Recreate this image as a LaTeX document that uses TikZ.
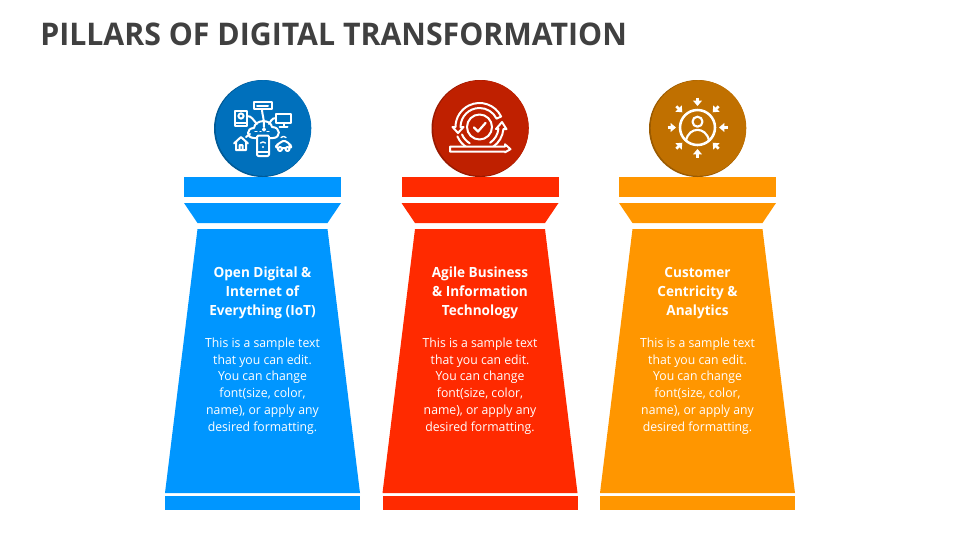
\documentclass[tikz,border=0pt]{standalone}
\usepackage{fontspec}
\setmainfont[FakeStretch=0.97]{Open Sans}
\usetikzlibrary{arrows.meta, positioning}
\definecolor{pillarBlue}{HTML}{0096FF}
\definecolor{pillarRed}{HTML}{FF2A00}
\definecolor{pillarOrange}{HTML}{FF9600}
\definecolor{discBlue}{HTML}{0070BC}
\definecolor{discRed}{HTML}{BF2000}
\definecolor{discOrange}{HTML}{C07000}
\definecolor{titleGrey}{HTML}{404040}
\tikzset{
    titletext/.style={font=\fontsize{23.4}{30}\selectfont\bfseries, text=titleGrey, anchor=west, inner sep=0pt},
    headtext/.style={font=\fontsize{10.5}{14.25}\selectfont\bfseries, text=white, align=center, inner sep=0pt},
    bodytext/.style={font=\fontsize{9.45}{12.6}\selectfont, text=white, align=center, inner sep=0pt},
    glyph/.style={draw=white, line width=1.5pt, line join=round, line cap=round},
    inarrow/.style={draw=white, line width=1.9pt, -{Triangle[length=4pt, width=6.5pt]}}
}

\begin{document}
\begin{tikzpicture}[x=0.75pt, y=-0.75pt]
    \useasboundingbox (0,0) rectangle (960,540);

    \node [titletext] (title) at (40,34.5) {PILLARS OF DIGITAL TRANSFORMATION};

    % Pillars
    \foreach \cx/\tone/\dark/\nm in {262.5/pillarBlue/discBlue/blue, 480/pillarRed/discRed/red, 697.5/pillarOrange/discOrange/orange} {
        \fill [\tone] (\cx-78.5,177) rectangle (\cx+78.5,197);
        \fill [\tone] (\cx-78.5,203) -- (\cx+78.5,203) -- (\cx+65,223) -- (\cx-65,223) -- cycle;
        \fill [\tone] (\cx-65,229) -- (\cx+65,229) -- (\cx+97.5,493) -- (\cx-97.5,493) -- cycle;
        \fill [\tone] (\cx-97.5,496) rectangle (\cx+97.5,510);
        \fill [\dark!80!black] (\cx,128.5) circle (48.5);
        \fill [\dark] (\cx+1,128) circle (47.8);
        \node [bodytext] (body\nm) at (\cx,386) {This is a sample text\\that you can edit.\\You can change\\font(size, color,\\name), or apply any\\desired formatting.};
    }

    \node [headtext] (headblue) at (262.5,293) {Open Digital \&\\Internet of\\Everything (IoT)};
    \node [headtext] (headred) at (480,293) {Agile Business\\\& Information\\Technology};
    \node [headtext] (headorange) at (697.5,293) {Customer\\Centricity \&\\Analytics};

    % Cloud and devices
    \draw [glyph] (253.5,102) rectangle (271.5,109) (257,106) -- (268,106);
    \draw [glyph] (235,111) rectangle (247,126) (235,122.5) -- (247,122.5);
    \draw [glyph] (241,116) circle (2.6);
    \draw [glyph] (276,113.5) rectangle (291,123) (283.5,123) -- (283.5,126.5) (279.5,126.5) -- (287.5,126.5);
    \draw [glyph] (254,138) .. controls (246,138) and (246,128) .. (254,128)
        .. controls (255,119) and (271,119) .. (272,127)
        .. controls (281,127) and (281,138) .. (273,138) -- cycle;
    \draw [glyph] (247,116) .. controls (252,116) and (253,120) .. (257,124);
    \draw [glyph] (262,109) .. controls (262,115) and (264,116) .. (264,127);
    \draw [glyph] (276,118) .. controls (271,118) and (271,122) .. (269,124);
    \draw [glyph, line width=1.1pt] (264,129.5) circle (1.3);
    \draw [glyph, line width=1.1pt] (255,131.5) -- (257,131.5) (260,131.5) -- (261,131.5) (267,131.5) -- (269,131.5);
    \draw [glyph] (246,137) -- (250,134);
    \draw [glyph] (234,143.5) -- (241,137) -- (248,143.5) (236,142) -- (236,150) -- (246,150) -- (246,142) (239.5,150) -- (239.5,145) -- (242.5,145) -- (242.5,150);
    \draw [glyph, fill=discBlue, rounded corners=1pt] (257,135.5) rectangle (269,156);
    \draw [glyph] (257,151.5) -- (269,151.5);
    \fill [white] (263,147) circle (1.2);
    \draw [glyph, line width=1pt] (260.5,143) .. controls (262,141.5) and (264,141.5) .. (265.5,143);
    \draw [glyph, rounded corners=1.5pt] (276,148) -- (276,145) -- (279,144.5) -- (281,141) -- (287,141) -- (289,144.5) -- (291,145.5) -- (291,148) -- cycle;
    \draw [glyph, fill=discBlue] (280,149) circle (2) (287.5,149) circle (2);
    \draw [glyph, line width=1pt] (281,137.5) .. controls (282.5,136) and (284.5,136) .. (286,137.5);

    % Agile cycle
    \begin{scope}[shift={(479.5,127)}]
        \draw [glyph] (0,0) circle (12.5);
        \draw [glyph, line width=1.7pt] (-5.5,0.5) -- (-1.5,4.5) -- (6,-4);
        \draw [glyph] (334:24) arc (334:180:24) -- (180:27) -- (-21.5,6) -- (180:16) -- (180:19) arc (180:334:19) -- cycle;
        \draw [glyph] (56:24) arc (56:5:24) -- ++(3,0) -- (22.5,-5) -- (16.5,2) -- (5:19) arc (5:56:19);
        \draw [glyph] (157:24) arc (157:121:24) (157:19) arc (157:121:19);
        \draw [glyph, fill=discRed] (-29.5,19.7) -- (25.5,19.7) -- (25.5,17.3) -- (31,22.2) -- (25.5,25.3) -- (25.5,24.7) -- (-29.5,24.7) -- cycle;
    \end{scope}

    % Customer at the centre
    \draw [glyph, line width=1.9pt] (697.5,127.5) circle (17.5);
    \draw [glyph, line width=1.6pt] (697.5,121.7) circle (5);
    \draw [glyph, line width=1.6pt] (686,140.5) .. controls (689,126.3) and (706,126.3) .. (709,140.5);
    \foreach \ang in {0,45,...,315} {
        \draw [inarrow, shift={(697.5,127.5)}] (\ang:30) -- (\ang:21.5);
    }
\end{tikzpicture}
\end{document}
